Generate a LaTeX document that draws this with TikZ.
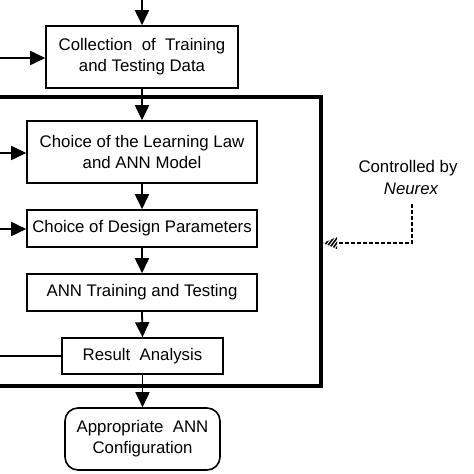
\documentclass[tikz,border=0pt]{standalone}
\usepackage{fontspec}
\setmainfont{Liberation Sans}
\usetikzlibrary{arrows.meta,calc}
\begin{document}
\begin{tikzpicture}[x=1bp,y=-1bp,
  font=\fontsize{16.8bp}{21bp}\selectfont,
  box/.style={draw,line width=1.6bp,align=center,inner sep=0pt},
  flow/.style={line width=1.8bp,-{Triangle[length=15bp,width=14bp]}},
  plain/.style={line width=1.8bp},
  frame/.style={line width=3.6bp}]
\useasboundingbox (0,0) rectangle (474,474);
% big frame
\draw[frame] (-10,97) -- (321,97) -- (321,386) -- (-10,386);
% boxes
\node[box,minimum width=192bp,minimum height=62bp] (b1) at (142,57) {Collection\ \ of\ \ Training\\and Testing Data};
\node[box,minimum width=230bp,minimum height=62bp] (b2) at (142,152) {Choice of the Learning Law\\and ANN Model};
\node[box,minimum width=230bp,minimum height=37bp] (b3) at (142,228.5) {Choice of Design Parameters};
\node[box,minimum width=230bp,minimum height=37bp] (b4) at (142,292.5) {ANN Training and Testing};
\node[box,minimum width=161bp,minimum height=36bp] (b5) at (142.5,356) {Result\ \ Analysis};
\node[box,rounded corners=13bp,minimum width=155bp,minimum height=62bp] (b6) at (142.5,439) {Appropriate\ \ ANN\\Configuration};
\node (c1) at (408,168) {Controlled by};
\node (c2) at (411,189) {\itshape Neurex};
% free ends
\coordinate (t0) at (b1.north |- 0,-10);
\coordinate (l1) at (-10,58);
\coordinate (l2) at (-10,153);
\coordinate (l3) at (-10,229);
\coordinate (l5) at (-10,356);
\coordinate (d0) at (412,204);
\coordinate (d1) at (412,243);
\coordinate (d2) at (337,243);
\coordinate (dt) at (323,243);
\coordinate (da) at (337,237);
\coordinate (db) at (337,249);
% connectors
\draw[flow] (t0) -- (b1.north);
\draw[flow] (l1) -- (l1 -| b1.west);
\draw[flow] (l2) -- (l2 -| b2.west);
\draw[flow] (l3) -- (l3 -| b3.west);
\draw[plain] (b5.west) -- (l5);
\draw[flow] (b1.south) -- (b2.north);
\draw[flow] (b2.south) -- (b3.north);
\draw[flow] (b3.south) -- (b4.north);
\draw[flow] (b4.south) -- (b5.north);
\draw[flow] (b5.south) -- (b6.north);
% dashed control line with hatched head
\draw[line width=1.5bp,dash pattern=on 4bp off 2bp] (d0) -- (d1) -- (d2);
\begin{scope}
\clip (dt) -- (da) -- (db) -- cycle;
\foreach \k in {0,3.5,...,28} {
  \draw[line width=1.6bp] ($(316,252)+(\k,0)$) -- ++(12,-16);
}
\end{scope}
\end{tikzpicture}
\end{document}
